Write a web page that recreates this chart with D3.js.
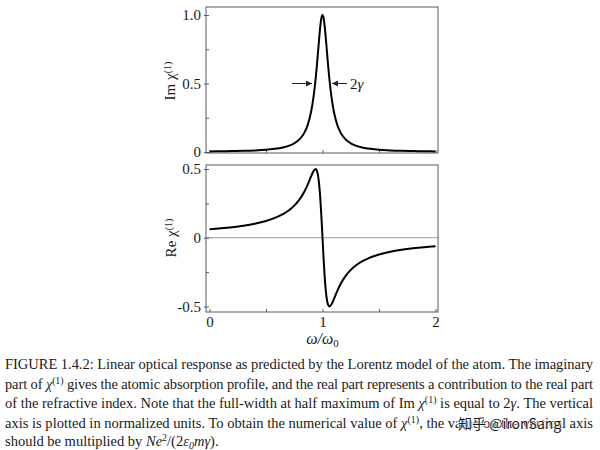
<!DOCTYPE html>
<html>
<head>
<meta charset="utf-8">
<script src="https://cdn.jsdelivr.net/npm/d3@7"></script>
<style>
  body { margin: 0; background: #fff; }
  svg { display: block; }
  text { font-family: "Liberation Serif", "DejaVu Serif", serif; fill: #1a1a1a; }
</style>
</head>
<body>
<script>
// frequency grid, omega / omega0
const omega = [0, 0.1, 0.2, 0.3, 0.4, 0.5, 0.6, 0.65, 0.7, 0.75, 0.8, 0.84, 0.87, 0.9, 0.92, 0.94,
  0.95, 0.96, 0.97, 0.98, 0.99, 1.0, 1.01, 1.02, 1.03, 1.04, 1.05, 1.06, 1.08, 1.1, 1.13, 1.16,
  1.2, 1.25, 1.3, 1.35, 1.4, 1.5, 1.6, 1.7, 1.8, 1.9, 2.0]

// Im chi(1)
const imChi = [0.0042, 0.0052, 0.0066, 0.0085, 0.0116, 0.0166, 0.0257, 0.0333, 0.0448, 0.0633,
  0.0955, 0.1417, 0.200, 0.297, 0.398, 0.540, 0.628, 0.725, 0.824, 0.914, 0.977, 1.0,
  0.977, 0.914, 0.824, 0.725, 0.628, 0.540, 0.398, 0.297, 0.200, 0.1417, 0.0955, 0.0633,
  0.0448, 0.0333, 0.0257, 0.0166, 0.0116, 0.0085, 0.0066, 0.0052, 0.0042]

// Re chi(1)
const reChi = [0.0618, 0.0686, 0.0770, 0.0879, 0.1022, 0.1221, 0.1514, 0.1718, 0.1982, 0.2336,
  0.2828, 0.3369, 0.3886, 0.4479, 0.4842, 0.4997, 0.4887, 0.4556, 0.3921, 0.2922, 0.1572, 0,
  -0.1572, -0.2922, -0.3921, -0.4556, -0.4887, -0.4997, -0.4842, -0.4479, -0.3886, -0.3369,
  -0.2828, -0.2336, -0.1982, -0.1718, -0.1514, -0.1221, -0.1022, -0.0879, -0.0770, -0.0686, -0.0618]

const xTicks = [0, 0.5, 1, 1.5, 2]
const xLabels = [0, 1, 2]
const imMajor = [0, 0.5, 1]
const imMinor = [0, 0.25, 0.5, 0.75, 1]
const reMajor = [-0.5, 0, 0.5]
const reMinor = [-0.5, -0.25, 0, 0.25, 0.5]

const width = 600
const height = 450

const svg = d3.select("body").append("svg")
  .attr("width", width)
  .attr("height", height)

// panel frames (pixel layout)
const frame = { left: 206, right: 438 }
const top1 = { top: 7, bottom: 153 }
const top2 = { top: 165, bottom: 312 }

const x = d3.scaleLinear([0, 2], [209.5, 435.5])
const yIm = d3.scaleLinear([0, 1], [152, 15])
const yRe = d3.scaleLinear([-0.5, 0.5], [306.5, 169])

const fmt = d => d === 0 ? "0" : d.toFixed(1)

function panel(p, y, major, minor, values, label) {
  const g = svg.append("g")

  // zero line for the real part
  if (y.domain()[0] < 0) {
    g.append("line")
      .attr("x1", frame.left).attr("x2", frame.right)
      .attr("y1", y(0)).attr("y2", y(0))
      .attr("stroke", "#9a9a9a")
      .attr("stroke-width", 1)
  }

  g.append("rect")
    .attr("x", frame.left).attr("y", p.top)
    .attr("width", frame.right - frame.left)
    .attr("height", p.bottom - p.top)
    .attr("fill", "none")
    .attr("stroke", "#5a5a5a")
    .attr("stroke-width", 1)

  // labelled ticks, a little outside
  g.append("g")
    .attr("transform", `translate(${frame.left},0)`)
    .call(d3.axisLeft(y).tickValues(major).tickSize(2).tickPadding(3).tickFormat(fmt))
    .call(a => a.select(".domain").remove())
    .call(a => a.selectAll("line").attr("stroke", "#5a5a5a"))
    .call(a => a.selectAll("text").style("font-size", "15px").attr("fill", "#1a1a1a"))

  // inner ticks
  g.append("g")
    .attr("transform", `translate(${frame.left},0)`)
    .call(d3.axisRight(y).tickValues(minor).tickSize(3).tickFormat(""))
    .call(a => a.select(".domain").remove())
    .call(a => a.selectAll("line").attr("stroke", "#5a5a5a"))

  g.append("g")
    .attr("transform", `translate(0,${p.bottom})`)
    .call(d3.axisTop(x).tickValues(xTicks).tickSize(3).tickFormat(""))
    .call(a => a.select(".domain").remove())
    .call(a => a.selectAll("line").attr("stroke", "#5a5a5a"))

  const line = d3.line()
    .x((d, i) => x(omega[i]))
    .y(d => y(d))
    .curve(d3.curveMonotoneX)

  g.append("path")
    .datum(values)
    .attr("fill", "none")
    .attr("stroke", "#000")
    .attr("stroke-width", 2)
    .attr("stroke-linejoin", "round")
    .attr("d", line)

  // rotated y label
  const t = g.append("text")
    .attr("transform", `translate(${label.x},${label.y}) rotate(-90)`)
    .attr("text-anchor", "middle")
    .style("font-size", "15px")
  t.append("tspan").text(label.text + " \u03c7")
  t.append("tspan").attr("dy", "-0.45em").style("font-size", "10px").text("(1)")
}

panel(top1, yIm, imMajor, imMinor, imChi, { x: 175, y: 81, text: "Im" })
panel(top2, yRe, reMajor, reMinor, reChi, { x: 176, y: 238, text: "Re" })

// x tick labels
svg.append("g")
  .attr("transform", `translate(0,${top2.bottom})`)
  .call(d3.axisBottom(x).tickValues(xLabels).tickSize(0).tickPadding(4).tickFormat(d3.format("d")))
  .call(a => a.select(".domain").remove())
  .call(a => a.selectAll("text").style("font-size", "15px").attr("fill", "#1a1a1a"))

const xl = svg.append("text")
  .attr("x", x(1)).attr("y", 344)
  .attr("text-anchor", "middle")
  .style("font-size", "16px")
xl.append("tspan").style("font-style", "italic").text("\u03c9/\u03c9")
xl.append("tspan").attr("dy", "0.25em").style("font-size", "11px").text("0")

// 2 gamma markers at half maximum
const half = yIm(0.5)
const arrows = [
  { from: 292, to: 312 },
  { from: 347, to: 332 }
]
svg.append("defs").append("marker")
  .attr("id", "head")
  .attr("viewBox", "0 0 10 10")
  .attr("refX", 10).attr("refY", 5)
  .attr("markerWidth", 7).attr("markerHeight", 6)
  .attr("markerUnits", "userSpaceOnUse")
  .attr("orient", "auto")
  .append("path")
  .attr("d", "M0,0 L10,5 L0,10 z")
  .attr("fill", "#222")
svg.selectAll(".arr")
  .data(arrows)
  .join("line")
  .attr("x1", d => d.from).attr("x2", d => d.to)
  .attr("y1", half).attr("y2", half)
  .attr("stroke", "#222")
  .attr("stroke-width", 1)
  .attr("marker-end", "url(#head)")

const gl = svg.append("text")
  .attr("x", 350).attr("y", half + 5)
  .style("font-size", "15px")
gl.append("tspan").text("2")
gl.append("tspan").style("font-style", "italic").text("\u03b3")

// caption
const capX = 5
const capW = 588
const capSize = 14.5
const capLines = [
  [["FIGURE 1.4.2: Linear optical response as predicted by the Lorentz model of the atom. The imaginary"]],
  [["part of "], ["\u03c7", "i"], ["(1)", "sup"], [" gives the atomic absorption profile, and the real part represents a contribution to the real part"]],
  [["of the refractive index. Note that the full-width at half maximum of Im "], ["\u03c7", "i"], ["(1)", "sup"], [" is equal to 2"], ["\u03b3", "i"], [". The vertical"]],
  [["axis is plotted in normalized units. To obtain the numerical value of "], ["\u03c7", "i"], ["(1)", "sup"], [", the value on the vertical axis"]],
  [["should be multiplied by "], ["Ne", "i"], ["2", "sup"], ["/(2"], ["\u03b5", "i"], ["0", "sub"], ["m\u03b3", "i"], [")."]]
]
const capBase = [369, 389, 408, 428, 446]

capLines.forEach((parts, li) => {
  const t = svg.append("text")
    .attr("x", capX).attr("y", capBase[li])
    .style("font-size", capSize + "px")
  if (li < capLines.length - 1) {
    t.attr("textLength", capW).attr("lengthAdjust", "spacing")
  }
  let shift = 0
  parts.forEach(([s, k]) => {
    const sp = t.append("tspan").text(s)
    let target = 0
    if (k === "i") sp.style("font-style", "italic")
    if (k === "sup") { target = -5; sp.style("font-size", "10px") }
    if (k === "sub") { target = 3; sp.style("font-size", "10px"); sp.style("font-style", "italic") }
    if (target !== shift) { sp.attr("dy", target - shift); shift = target }
  })
})

// faint watermark over the end of caption line 4
svg.append("text")
  .attr("x", 458).attr("y", 429)
  .style("font-family", "'Noto Sans CJK SC', 'Noto Sans', sans-serif")
  .style("font-size", "14px")
  .attr("fill", "#c4c4c4")
  .attr("stroke", "#fff")
  .attr("stroke-width", 1.2)
  .attr("paint-order", "stroke")
  .text("\u77e5\u4e4e @ironSang")
</script>
</body>
</html>
